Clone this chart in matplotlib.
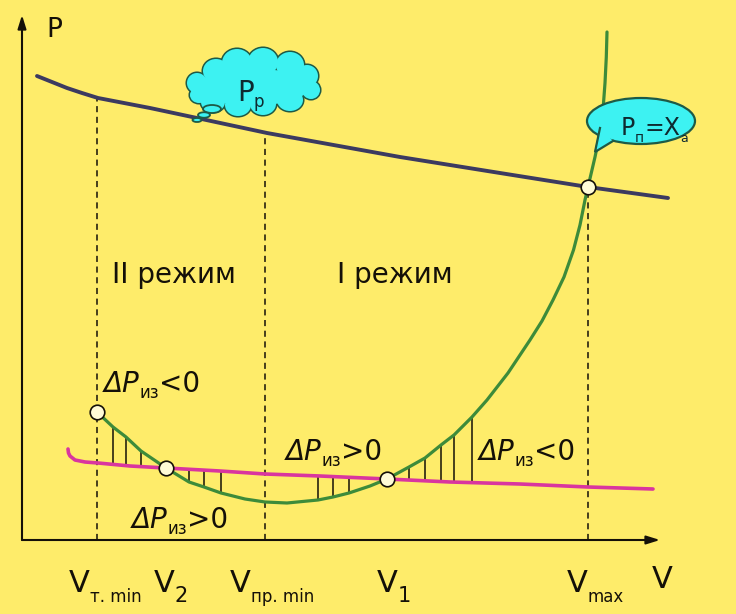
import numpy as np
import matplotlib
matplotlib.use('Agg')
import matplotlib.pyplot as plt
from matplotlib.patches import Ellipse, Polygon
from matplotlib.transforms import offset_copy

plt.rcParams['font.family'] = ['DejaVu Sans']

# ---- data (V along horizontal, P vertical; origin at the axes corner) ----
V_top = [15, 30, 45, 60, 76, 128, 175, 245, 378, 478, 566, 646]
P_top = [464, 458, 452, 447, 442, 432, 422, 407, 383, 367, 353, 342]

V_green = [75, 91, 104, 119, 144, 167, 182, 199, 223, 243, 265, 296, 311, 327,
           348, 365, 387, 403, 419, 432, 450, 465, 486, 508, 520, 531, 542,
           551.5, 558, 563, 566, 573, 578, 581, 583, 584.3, 585]
P_green = [128, 113, 103, 89, 72, 58, 53, 47, 41, 38, 37, 40, 43, 47,
           54, 61, 73, 82, 95, 105, 123, 140, 167, 200, 219, 240, 263,
           290, 315, 340, 353, 383, 407, 430, 457, 483, 508]

V_mag = [46, 46.5, 48, 53, 63, 76, 108, 144, 198, 243, 298, 365, 428, 498, 566, 631]
P_mag = [91, 87, 84, 80, 78, 77, 74, 72, 69, 66, 64, 61, 58, 56, 53, 51]

V_hatch = [91, 104, 119, 167, 182, 199, 296, 311, 327, 387, 403, 419, 432, 450]
V_dashed = [75, 243, 566]
V_points = [75, 144, 365]
V_cross = 566

tick_main = ['V', 'V', 'V', 'V', 'V']
tick_sub = ['т. min', '2', 'пр. min', '1', 'max']
tick_V = [47, 132, 208, 355, 545]

BG = '#FEEC6A'
NAVY = '#3C3A60'
GREEN = '#3D8B3A'
MAG = '#D9359F'
INK = '#141008'

fig = plt.figure(figsize=(7.36, 6.14), dpi=100)
fig.patch.set_facecolor(BG)
ax = fig.add_axes([0, 0, 1, 1])
ax.set_facecolor(BG)
ax.set_xlim(-22, 714)
ax.set_ylim(-74, 540)
ax.axis('off')

# axes arrows
ax.annotate('', xy=(0, 525), xytext=(0, 0),
            arrowprops=dict(arrowstyle='-|>,head_length=0.8,head_width=0.25',
                            color=INK, lw=1.5, shrinkA=0, shrinkB=0))
ax.annotate('', xy=(638, 0), xytext=(0, 0),
            arrowprops=dict(arrowstyle='-|>,head_length=0.8,head_width=0.25',
                            color=INK, lw=1.5, shrinkA=0, shrinkB=0))

# curves
ax.plot(V_top, P_top, color=NAVY, lw=2.8, solid_capstyle='round',
        solid_joinstyle='round', zorder=3)
ax.plot(V_mag, P_mag, color=MAG, lw=2.6, solid_capstyle='round',
        solid_joinstyle='round', zorder=3)
ax.plot(V_green, P_green, color=GREEN, lw=2.3, solid_capstyle='round',
        solid_joinstyle='round', zorder=4)

# dashed verticals
for v in V_dashed:
    top = np.interp(v, V_top, P_top)
    ax.plot([v, v], [0, top], color=INK, lw=1.1, ls=(0, (4, 3)), zorder=2)

# hatching
for v in V_hatch:
    g = np.interp(v, V_green, P_green)
    m = np.interp(v, V_mag, P_mag)
    ax.plot([v, v], [g, m], color=INK, lw=1.1, zorder=2)

# circles
for v in V_points:
    ax.scatter([v], [np.interp(v, V_green, P_green)], s=110, facecolor='#FFFBD6',
               edgecolor=INK, linewidth=1.2, zorder=6)
ax.scatter([V_cross], [np.interp(V_cross, V_top, P_top)], s=110, facecolor='#FFFBD6',
           edgecolor=INK, linewidth=1.2, zorder=6)

renderer = fig.canvas.get_renderer()


def chain(x, y, parts, color=INK, z=8):
    dx = 0
    for s, size, style, dy in parts:
        tr = offset_copy(ax.transData, fig=fig, x=dx, y=-dy, units='dots')
        t = ax.text(x, y, s, fontsize=size, style=style, color=color,
                    ha='left', va='baseline', transform=tr, zorder=z)
        dx += t.get_window_extent(renderer).width


def px(x, y):
    return x - 22, 540 - y


# tick labels
for m, s, v in zip(tick_main, tick_sub, tick_V):
    sub_size = 15 if s in ('1', '2') else 12
    chain(v, -52, [(m, 22, 'normal', 0), (s, sub_size, 'normal', 10)])
ax.text(*px(652, 588), 'V', fontsize=22, color=INK, ha='left', va='baseline')
ax.text(*px(46, 37), 'P', fontsize=19, color=INK, ha='left', va='baseline')

# regime labels
ax.text(*px(112, 283), 'II режим', fontsize=20, color=INK, ha='left', va='baseline')
ax.text(*px(337, 283), 'I режим', fontsize=20, color=INK, ha='left', va='baseline')


def dP(xp, yp, sign):
    chain(*px(xp, yp), [('ΔP', 20, 'italic', 0), ('из', 12, 'normal', 6),
                        (sign + '0', 20, 'normal', 0)])


dP(104, 392, '<')
dP(132, 528, '>')
dP(286, 460, '>')
dP(479, 460, '<')

# cloud P_p
CF = '#3DF2F2'
CE = '#1E5A46'
blobs = [(253, 87, 112, 37), (216, 71, 26, 24), (237, 63, 30, 28), (263, 62, 30, 28),
         (290, 65, 28, 26), (307, 76, 22, 22), (311, 90, 18, 18), (213, 102, 24, 20),
         (238, 105, 26, 22), (263, 104, 26, 22), (290, 100, 26, 22), (197, 83, 20, 20),
         (199, 95, 18, 16)]
for cx, cy, w, h in blobs:
    ax.add_patch(Ellipse(px(cx, cy), w, h, facecolor=CF, edgecolor=CE, lw=2.2, zorder=5))
for cx, cy, w, h in blobs:
    ax.add_patch(Ellipse(px(cx, cy), w, h, facecolor=CF, edgecolor='none', zorder=6))
for cx, cy, w, h in [(212, 109, 18, 8), (204, 115, 12, 5.5), (197, 120, 9, 4)]:
    ax.add_patch(Ellipse(px(cx, cy), w, h, facecolor=CF, edgecolor=CE, lw=1.3, zorder=6))
chain(*px(237, 101), [('P', 20, 'normal', 0), ('p', 12, 'normal', 6)], color='#0E2A30')

# speech bubble P_п = X_a
ax.add_patch(Ellipse(px(641, 121), 108, 46, facecolor=CF, edgecolor=CE, lw=1.6, zorder=5))
tail = [px(600, 128), px(595, 152), px(613, 141)]
ax.add_patch(Polygon(tail, closed=True, facecolor=CF, edgecolor='none', zorder=6))
tx, ty = zip(*tail)
ax.plot(tx, ty, color=CE, lw=1.6, zorder=7, solid_joinstyle='miter')
chain(*px(621, 135), [('P', 17, 'normal', 0), ('п', 10, 'normal', 7),
                      ('=X', 17, 'normal', 0), ('a', 9, 'normal', 7)], color='#0E2A30')

fig.savefig('out.png', dpi=100, facecolor=BG)
